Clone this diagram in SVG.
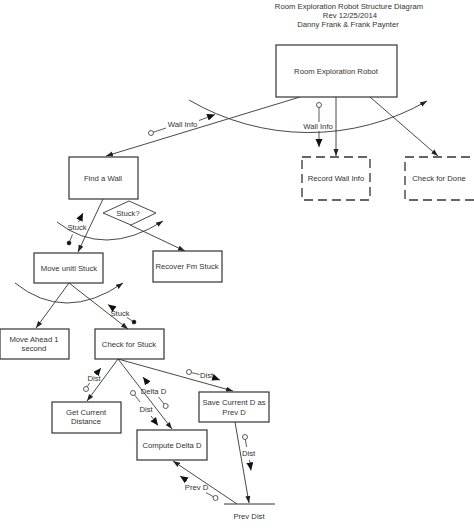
<svg xmlns="http://www.w3.org/2000/svg" width="474" height="530" viewBox="0 0 474 530">
<defs>
<style>
text{font-family:"Liberation Sans",Arial,sans-serif;font-size:7.7px;fill:#333;text-anchor:middle}
.box{fill:#fff;stroke:#333;stroke-width:1.2}
.dash{fill:#fff;stroke:#333;stroke-width:1.3;stroke-dasharray:9 5}
.c{fill:none;stroke:#333;stroke-width:0.9;marker-end:url(#ah)}
.arc{fill:none;stroke:#333;stroke-width:0.9;marker-end:url(#ah)}
.ll{fill:none;stroke:#333;stroke-width:0.8}
.la{fill:none;stroke:#333;stroke-width:0.8;marker-end:url(#lh)}
.oc{fill:#fff;stroke:#333;stroke-width:0.8}
.fc{fill:#111;stroke:#111;stroke-width:0.5}
</style>
<marker id="ah" markerUnits="userSpaceOnUse" markerWidth="8" markerHeight="6" refX="7" refY="3" orient="auto"><path d="M0,0.5 L7,3 L0,5.5 z" fill="#222"/></marker>
<marker id="lh" markerUnits="userSpaceOnUse" markerWidth="9" markerHeight="8" refX="8" refY="3.5" orient="auto"><path d="M0,0 L8,3.5 L0,7 z" fill="#111"/></marker>
</defs>
<rect width="474" height="530" fill="#fff"/>
<g id="title">
<text x="349" y="8.5">Room Exploration Robot Structure Diagram</text>
<text x="350" y="17.8">Rev 12/25/2014</text>
<text x="348" y="26.8">Danny Frank &amp; Frank Paynter</text>
</g>
<g id="connectors">
<line class="c" x1="300" y1="97" x2="106" y2="156"/>
<line class="c" x1="336" y1="97" x2="336" y2="156"/>
<line class="c" x1="370" y1="97" x2="438" y2="156"/>
<line class="c" x1="103" y1="199" x2="78" y2="252"/>
<line class="c" x1="130" y1="225" x2="185" y2="251"/>
<line class="c" x1="69" y1="283" x2="36" y2="328"/>
<line class="c" x1="69" y1="283" x2="128" y2="329"/>
<line class="c" x1="118" y1="359" x2="87" y2="401"/>
<line class="c" x1="118" y1="359" x2="172" y2="429"/>
<line class="c" x1="118" y1="359" x2="233" y2="391"/>
<line class="c" x1="235" y1="422" x2="249" y2="503"/>
<line class="c" x1="237" y1="504" x2="173" y2="461"/>
<path class="arc" d="M189,100 A237,237 0 0 0 427,101"/>
<path class="arc" d="M57,222 Q104,258.5 163,221"/>
<path class="arc" d="M15,283 Q65,323 123,283"/>
</g>
<g id="room-exploration-robot">
<rect class="box" x="276" y="45" width="121" height="52"/>
<text x="336" y="73.8">Room Exploration Robot</text>
</g>
<g id="record-wall-info">
<rect class="dash" x="302" y="157" width="68" height="43"/>
<text x="336" y="180.8">Record Wall Info</text>
</g>
<g id="check-for-done">
<rect class="dash" x="405" y="157" width="76" height="43"/>
<text x="439" y="180.8">Check for Done</text>
</g>
<g id="find-a-wall">
<rect class="box" x="69" y="157" width="69" height="42"/>
<text x="103" y="180.8">Find a Wall</text>
</g>
<g id="stuck-decision">
<polygon points="103,213 129,201 156,213 131,225" fill="#fff" stroke="#333" stroke-width="0.9"/>
<text x="128" y="215.8">Stuck?</text>
</g>
<g id="recover-fm-stuck">
<rect class="box" x="153" y="251" width="69" height="31"/>
<text x="187" y="268.8">Recover Fm Stuck</text>
</g>
<g id="move-until-stuck">
<rect class="box" x="34" y="253" width="69" height="30"/>
<text x="69" y="270.8">Move unitl Stuck</text>
</g>
<g id="move-ahead">
<rect class="box" x="0" y="329" width="69" height="30"/>
<text x="34" y="341.8">Move Ahead 1</text>
<text x="34" y="350.8">second</text>
</g>
<g id="check-for-stuck">
<rect class="box" x="95" y="329" width="69" height="30"/>
<text x="129" y="346.8">Check for Stuck</text>
</g>
<g id="get-current-distance">
<rect class="box" x="52" y="402" width="69" height="31"/>
<text x="86" y="414.8">Get Current</text>
<text x="86" y="423.8">Distance</text>
</g>
<g id="compute-delta-d">
<rect class="box" x="137" y="430" width="70" height="30"/>
<text x="172" y="447.8">Compute Delta D</text>
</g>
<g id="save-current-d">
<rect class="box" x="199" y="392" width="70" height="30"/>
<text x="234" y="404.8">Save Current D as</text>
<text x="234" y="414.8">Prev D</text>
</g>
<g id="prev-dist">
<line x1="224" y1="504" x2="275" y2="504" stroke="#333" stroke-width="1"/>
<text x="249" y="518.8">Prev Dist</text>
</g>
<g id="labels">
<circle class="oc" cx="151" cy="133" r="2.5"/>
<line class="ll" x1="153.4" y1="132.2" x2="166" y2="128"/>
<text x="182.5" y="126.5">Wall Info</text>
<line class="la" x1="199" y1="120.5" x2="215" y2="114.5"/>

<circle class="oc" cx="319" cy="105" r="2.5"/>
<line class="ll" x1="319" y1="107.5" x2="319" y2="122"/>
<text x="318" y="128.8">Wall Info</text>
<line class="la" x1="319" y1="131" x2="319" y2="147"/>

<circle class="fc" cx="69" cy="243" r="2"/>
<line class="ll" x1="69.8" y1="241" x2="72.5" y2="234.5"/>
<text x="77" y="229.8">Stuck</text>
<line class="la" x1="78.5" y1="222" x2="83" y2="213"/>

<circle class="fc" cx="134" cy="322" r="2"/>
<line class="ll" x1="132" y1="320.7" x2="127" y2="317.5"/>
<text x="120" y="315.5">Stuck</text>
<line class="la" x1="113" y1="308" x2="108" y2="304.5"/>

<circle class="oc" cx="86" cy="389" r="2.5"/>
<line class="ll" x1="87.3" y1="386.8" x2="89.5" y2="383"/>
<text x="94" y="380.5">Dist</text>
<line class="la" x1="96" y1="374" x2="101" y2="368"/>

<circle class="oc" cx="165.7" cy="406" r="2.5"/>
<line class="ll" x1="164" y1="404" x2="158.5" y2="397"/>
<text x="153.5" y="393.8">Delta D</text>
<line class="la" x1="148" y1="383.5" x2="143" y2="377"/>

<circle class="oc" cx="133" cy="393" r="2.5"/>
<line class="ll" x1="134.6" y1="395" x2="140" y2="402"/>
<text x="146" y="411.8">Dist</text>
<line class="la" x1="151" y1="416" x2="158" y2="425.5"/>

<circle class="oc" cx="189" cy="372" r="2.5"/>
<line class="ll" x1="191.5" y1="372.6" x2="199.5" y2="374.5"/>
<text x="206.5" y="378.3">Dist</text>
<line class="la" x1="213" y1="377.5" x2="220" y2="380"/>

<circle class="oc" cx="245" cy="437" r="2.5"/>
<line class="ll" x1="245.4" y1="439.5" x2="246.5" y2="447"/>
<text x="248.5" y="456.3">Dist</text>
<line class="la" x1="249.5" y1="460" x2="251" y2="470.5"/>

<circle class="oc" cx="215.5" cy="498" r="2.5"/>
<line class="ll" x1="213.4" y1="496.7" x2="206" y2="492.5"/>
<text x="196.5" y="489.8">Prev D</text>
<line class="la" x1="186.5" y1="480.2" x2="180" y2="476"/>
</g>
</svg>
